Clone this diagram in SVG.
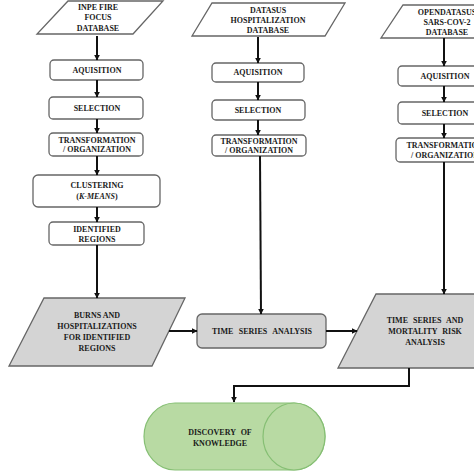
<svg xmlns="http://www.w3.org/2000/svg" width="474" height="474" viewBox="0 0 474 474">
<defs>
<marker id="ah" viewBox="0 0 10 10" refX="9" refY="5" markerWidth="3" markerHeight="3" orient="auto" markerUnits="strokeWidth">
<path d="M0,0 L10,5 L0,10 z" fill="#111"/>
</marker>
<style>
.box{fill:#fff;stroke:#666;stroke-width:1.3}
.gray{fill:#d4d4d4;stroke:#666;stroke-width:1.3}
.t{font-family:"Liberation Serif","Times New Roman",serif;font-weight:bold;font-size:8px;fill:#1a1a1a;text-anchor:middle}
.c{fill:none;stroke:#111;stroke-width:2}
</style>
</defs>
<rect width="474" height="474" fill="#fff"/>

<g id="inpe-db"><polygon class="box" points="68,1 163,1 133,34 37,34"/>
<text class="t" x="98" y="10">INPE FIRE</text><text class="t" x="98" y="20">FOCUS</text><text class="t" x="98" y="31">DATABASE</text></g>
<g id="inpe-aq"><rect class="box" x="50" y="60" width="93" height="20" rx="4"/><text class="t" x="97" y="73">AQUISITION</text></g>
<g id="inpe-sel"><rect class="box" x="49" y="97" width="94" height="22" rx="4"/><text class="t" x="97" y="111">SELECTION</text></g>
<g id="inpe-tr"><rect class="box" x="49" y="133" width="94" height="23" rx="4"/><text class="t" x="97" y="143">TRANSFORMATION</text><text class="t" x="97" y="152">/ ORGANIZATION</text></g>
<g id="clustering"><rect class="box" x="33" y="175" width="127" height="32" rx="5"/><text class="t" x="97" y="188">CLUSTERING</text><text class="t" x="97" y="199">(<tspan font-style="italic">K-MEANS</tspan>)</text></g>
<g id="identified"><rect class="box" x="49" y="222" width="95" height="23" rx="4"/><text class="t" x="97" y="232">IDENTIFIED</text><text class="t" x="97" y="242">REGIONS</text></g>
<g id="burns"><polygon class="gray" points="44,298 185,298 152,366 9,366"/>
<text class="t" x="97" y="318">BURNS AND</text><text class="t" x="97" y="329">HOSPITALIZATIONS</text><text class="t" x="97" y="340">FOR IDENTIFIED</text><text class="t" x="97" y="351">REGIONS</text></g>

<g id="datasus-db"><polygon class="box" points="212,3 345,3 325,36 192,36"/>
<text class="t" x="268" y="13">DATASUS</text><text class="t" x="268" y="23">HOSPITALIZATION</text><text class="t" x="268" y="33">DATABASE</text></g>
<g id="datasus-aq"><rect class="box" x="212" y="63" width="92" height="19" rx="4"/><text class="t" x="258" y="75">AQUISITION</text></g>
<g id="datasus-sel"><rect class="box" x="212" y="100" width="93" height="20" rx="4"/><text class="t" x="258" y="113">SELECTION</text></g>
<g id="datasus-tr"><rect class="box" x="212" y="135" width="94" height="21" rx="4"/><text class="t" x="259" y="144">TRANSFORMATION</text><text class="t" x="259" y="153">/ ORGANIZATION</text></g>
<g id="tsa"><rect class="gray" x="197" y="314" width="129" height="34" rx="5"/><text class="t" x="262" y="334" word-spacing="3.5">TIME SERIES ANALYSIS</text></g>

<g id="open-db"><polygon class="box" points="403,5 500,5 478,38 381,38"/>
<text class="t" x="447" y="15">OPENDATASUS</text><text class="t" x="447" y="25">SARS-COV-2</text><text class="t" x="447" y="35">DATABASE</text></g>
<g id="open-aq"><rect class="box" x="398" y="66" width="94" height="20" rx="4"/><text class="t" x="445" y="79">AQUISITION</text></g>
<g id="open-sel"><rect class="box" x="398" y="102" width="94" height="22" rx="4"/><text class="t" x="445" y="116">SELECTION</text></g>
<g id="open-tr"><rect class="box" x="396" y="138" width="98" height="24" rx="4"/><text class="t" x="445" y="148">TRANSFORMATION</text><text class="t" x="445" y="158">/ ORGANIZATION</text></g>
<g id="mortality"><polygon class="gray" points="376,294 490,294 490,368 338,368"/>
<text class="t" x="425" y="323" word-spacing="3">TIME SERIES AND</text><text class="t" x="425" y="334" word-spacing="3">MORTALITY RISK</text><text class="t" x="425" y="345">ANALYSIS</text></g>

<g id="discovery">
<path d="M175,403 L294,403 A31,33.5 0 0 1 294,470 L175,470 A31,33.5 0 0 1 175,403 z" fill="#b8daa3" stroke="#86bf74" stroke-width="1.2"/>
<ellipse cx="294" cy="436.5" rx="31" ry="33.5" fill="#b8daa3" stroke="#86bf74" stroke-width="1.2"/>
<text class="t" x="220" y="435" word-spacing="3">DISCOVERY OF</text><text class="t" x="220" y="446">KNOWLEDGE</text>
</g>

<g id="connectors">
<line class="c" x1="97" y1="36" x2="97" y2="60" marker-end="url(#ah)"/>
<line class="c" x1="97" y1="80" x2="97" y2="97" marker-end="url(#ah)"/>
<line class="c" x1="97" y1="119" x2="97" y2="133" marker-end="url(#ah)"/>
<line class="c" x1="97" y1="156" x2="97" y2="175" marker-end="url(#ah)"/>
<line class="c" x1="97" y1="207" x2="97" y2="222" marker-end="url(#ah)"/>
<line class="c" x1="97" y1="245" x2="97" y2="298" marker-end="url(#ah)"/>
<line class="c" x1="258" y1="37" x2="258" y2="63" marker-end="url(#ah)"/>
<line class="c" x1="258" y1="82" x2="258" y2="100" marker-end="url(#ah)"/>
<line class="c" x1="258" y1="120" x2="258" y2="135" marker-end="url(#ah)"/>
<line class="c" x1="260" y1="156" x2="261" y2="314" marker-end="url(#ah)"/>
<line class="c" x1="444" y1="38" x2="444" y2="66" marker-end="url(#ah)"/>
<line class="c" x1="444" y1="86" x2="444" y2="102" marker-end="url(#ah)"/>
<line class="c" x1="444" y1="124" x2="444" y2="138" marker-end="url(#ah)"/>
<line class="c" x1="444" y1="162" x2="444" y2="294" marker-end="url(#ah)"/>
<line class="c" x1="169" y1="331" x2="197" y2="331" marker-end="url(#ah)"/>
<line class="c" x1="326" y1="331" x2="357" y2="331" marker-end="url(#ah)"/>
<polyline class="c" points="409,368 409,386 234,386 234,402" marker-end="url(#ah)"/>
</g>
</svg>
